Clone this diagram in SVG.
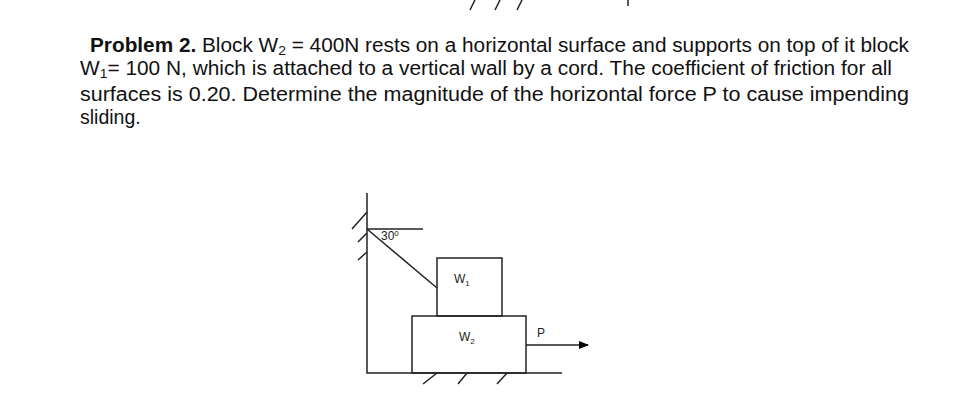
<svg xmlns="http://www.w3.org/2000/svg" width="967" height="410" viewBox="0 0 967 410">
<defs><marker id="ah" markerWidth="10" markerHeight="8" refX="9" refY="4" orient="auto" markerUnits="userSpaceOnUse"><path d="M0,0 L10,4 L0,8 z" fill="#000"/></marker>
<style>.t{font-family:"Liberation Sans",Arial,sans-serif;font-size:19.5px;fill:#111}.l{stroke:#222;stroke-width:1.5;fill:none}.s{font-family:"Liberation Sans",Arial,sans-serif;font-size:12px;fill:#222}</style></defs>
<rect width="967" height="410" fill="#fff"/>
<g id="text">
<text class="t" x="90" y="52" textLength="819" lengthAdjust="spacingAndGlyphs"><tspan font-weight="bold">Problem 2.</tspan> Block W<tspan font-size="13" dy="3">2</tspan><tspan dy="-3"> = 400N rests on a horizontal surface and supports on top of it block</tspan></text>
<text class="t" x="80" y="75" textLength="812" lengthAdjust="spacingAndGlyphs">W<tspan font-size="13" dy="3">1</tspan><tspan dy="-3">= 100 N, which is attached to a vertical wall by a cord. The coefficient of friction for all</tspan></text>
<text class="t" x="80" y="101" textLength="829" lengthAdjust="spacingAndGlyphs">surfaces is 0.20. Determine the magnitude of the horizontal force P to cause impending</text>
<text class="t" x="80" y="124">sliding.</text>
</g>
<g id="top-marks" class="l"><path d="M470,10 L475,0 M495,10 L500,0 M517,10 L522,0 M628,6 L628,0"/></g>
<g id="wall"><path class="l" d="M367,193 L367,373 L562,373"/><path class="l" d="M352,229 L367,212 M358,242 L367,233 M358,260 L367,252 M423,384 L437,373 M458,384 L467,373 M497,384 L507,373"/></g>
<g id="W1"><rect class="l" x="437" y="258" width="65" height="58"/><text class="s" x="454" y="283">W<tspan font-size="8" dy="3">1</tspan></text></g>
<g id="W2"><rect class="l" x="412" y="316" width="114" height="57"/><text class="s" x="459" y="341">W<tspan font-size="8" dy="3">2</tspan></text></g>
<g id="connectors">
<path class="l" d="M367,229 L423,229"/>
<path class="l" d="M367,229 L437,288"/>
<path class="l" d="M526,345 L588,345" marker-end="url(#ah)"/>
</g>
<text class="s" x="381" y="240">30<tspan font-size="8" dy="-4">0</tspan></text>
<text class="s" x="537" y="337" font-size="11">P</text>
</svg>
